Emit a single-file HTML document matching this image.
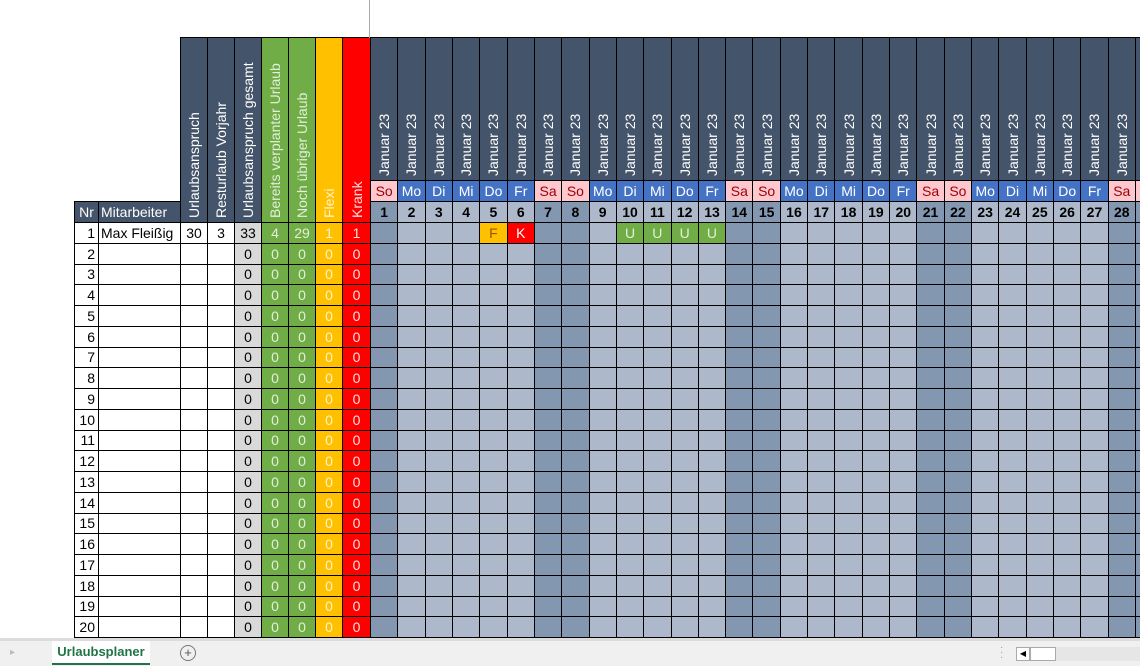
<!DOCTYPE html>
<html><head><meta charset="utf-8">
<style>
body{margin:0;width:1140px;height:666px;overflow:hidden;background:#fff;font-family:"Liberation Sans",sans-serif;position:relative}
.c{position:absolute;box-sizing:border-box;border:1px solid #000;font-size:14px;display:flex;align-items:center;justify-content:center;overflow:hidden;white-space:nowrap}
.rot{position:absolute;left:50%;bottom:4px;transform-origin:0 100%;transform:translateX(8px) rotate(-90deg);white-space:nowrap;font-size:14px;color:#fff}
</style></head><body>
<div id="g"></div>
<div style="position:absolute;left:369px;top:0;width:1px;height:38px;background:#aaa"></div>
<div style="position:absolute;left:0;top:638px;width:1140px;height:28px;background:#f0f0f0;border-top:3px solid #dcdcdc;box-sizing:border-box">
  <div style="position:absolute;left:10px;top:6px;color:#bbb;font-size:10px">&#9656;</div>
  <div style="position:absolute;left:52px;top:0;width:98px;height:24px;background:#fff;border-bottom:2px solid #217346;box-sizing:border-box;color:#217346;font-weight:bold;font-size:13px;text-align:center;line-height:22px">Urlaubsplaner</div>
  <div style="position:absolute;left:180px;top:4px;width:14px;height:14px;border:1px solid #777;border-radius:50%;color:#555;font-size:13px;line-height:14px;text-align:center">+</div>
  <div style="position:absolute;left:1000px;top:4px;color:#999;font-size:10px;line-height:5px">·<br>·<br>·</div>
  <div style="position:absolute;left:1016px;top:6px;width:124px;height:14px;background:#e6e6e6">
    <div style="position:absolute;left:0;top:0;width:14px;height:14px;background:#fff;border:1px solid #aaa;box-sizing:border-box;font-size:8px;text-align:center;line-height:12px">&#9664;</div>
    <div style="position:absolute;left:14px;top:0;width:26px;height:14px;background:#fff;border:1px solid #aaa;box-sizing:border-box"></div>
  </div>
</div>
<script>
const dayNames=["So","Mo","Di","Mi","Do","Fr","Sa"];
const dayCount=29;
const people=["Max Fleißig"];
const anspruch=[30];
const rest=[3];
const geplant=[4];
const flexi=[1];
const krank=[1];
const entries={"0-5":"F","0-6":"K","0-10":"U","0-11":"U","0-12":"U","0-13":"U"};
const g=document.getElementById('g');
function cell(x,y,w,h,bg,txt,color,name,extra){
  const d=document.createElement('div');d.className='c';
  d.style.cssText=`left:${x}px;top:${y}px;width:${w+1}px;height:${h+1}px;background:${bg};color:${color||'#000'};${extra||''}`;
  d.textContent=txt||'';
  
  
  g.appendChild(d);return d;}
function rotCell(x,w,bg,txt,color,name){
  const d=cell(x,37,w,143,bg,'',color,name);
  const s=document.createElement('span');s.className='rot';s.textContent=txt;s.style.color=color;d.appendChild(s);}
const top0=37,rowH=20.75,r0=222;
const cols=[[180,27,'#44546a','Urlaubsanspruch','#fff'],[207,27,'#44546a','Resturlaub Vorjahr','#fff'],[234,27,'#44546a','Urlaubsanspruch gesamt','#fff'],[261,27,'#70ad47','Bereits verplanter Urlaub','#e2efda'],[288,27,'#70ad47','Noch übriger Urlaub','#e2efda'],[315,27,'#ffc000','Flexi','#fff2cc'],[342,28,'#ff0000','Krank','#ffe0e0']];
cols.forEach((c,i)=>{const d=cell(c[0],top0,c[1],185,c[2],'',c[4],'header-'+c[3].toLowerCase().replace(/[^a-z]+/g,'-'));const s=document.createElement('span');s.className='rot';s.textContent=c[3];s.style.color=c[4];d.appendChild(s);});
cell(74,201,24,21,'#44546a','Nr','#fff','nr-header');
cell(98,201,82,21,'#44546a','Mitarbeiter','#fff','mitarbeiter-header','justify-content:flex-start;padding-left:2px');
const dw=27.32;
for(let d=0;d<dayCount;d++){
  const x=370+d*dw, dn=dayNames[d%7], we=(dn=="Sa"||dn=="So");
  rotCell(x,dw,'#44546a','Januar 23','#fff','month-header-'+(d+1));
  cell(x,180,dw,21,we?'#ffc7ce':'#4472c4',dn,we?'#9c0006':'#fff','weekday-'+(d+1));
  cell(x,201,dw,21,we?'#8497b0':'#adb9ca',String(d+1),'#000','day-number-'+(d+1),'font-weight:bold');
}
for(let r=0;r<20;r++){
  const y=r0+r*rowH;
  const ges=r<people.length?anspruch[r]+rest[r]:0;
  const gp=r<people.length?geplant[r]:0;
  cell(74,y,24,rowH,'#fff',String(r+1),'#000','row-nr-'+(r+1),'justify-content:flex-end;padding-right:3px');
  cell(98,y,82,rowH,'#fff',people[r]||'','#000','employee-name-'+(r+1),'justify-content:flex-start;padding-left:2px');
  cell(180,y,27,rowH,'#fff',r<people.length?String(anspruch[r]):'','#000','anspruch-'+(r+1));
  cell(207,y,27,rowH,'#fff',r<people.length?String(rest[r]):'','#000','rest-'+(r+1));
  cell(234,y,27,rowH,'#d9d9d9',String(ges),'#000','gesamt-'+(r+1));
  cell(261,y,27,rowH,'#70ad47',String(gp),'#e2efda','geplant-'+(r+1));
  cell(288,y,27,rowH,'#70ad47',String(ges-gp),'#e2efda','uebrig-'+(r+1));
  cell(315,y,27,rowH,'#ffc000',String(r<people.length?flexi[r]:0),'#fff2cc','flexi-'+(r+1));
  cell(342,y,28,rowH,'#ff0000',String(r<people.length?krank[r]:0),'#ffe0e0','krank-'+(r+1));
  for(let d=0;d<dayCount;d++){
    const dn=dayNames[d%7], we=(dn=="Sa"||dn=="So");
    const e=entries[r+'-'+(d+1)];
    let bg=we?'#8497b0':'#adb9ca',col='#000';
    if(e=='F'){bg='#ffc000';col='#9c5700';}else if(e=='K'){bg='#ff0000';col='#fff';}else if(e=='U'){bg='#70ad47';col='#e2efda';}
    cell(370+d*dw,y,dw,rowH,bg,e||'',col,'day-cell-'+(r+1)+'-'+(d+1));
  }
}
</script>
</body></html>
